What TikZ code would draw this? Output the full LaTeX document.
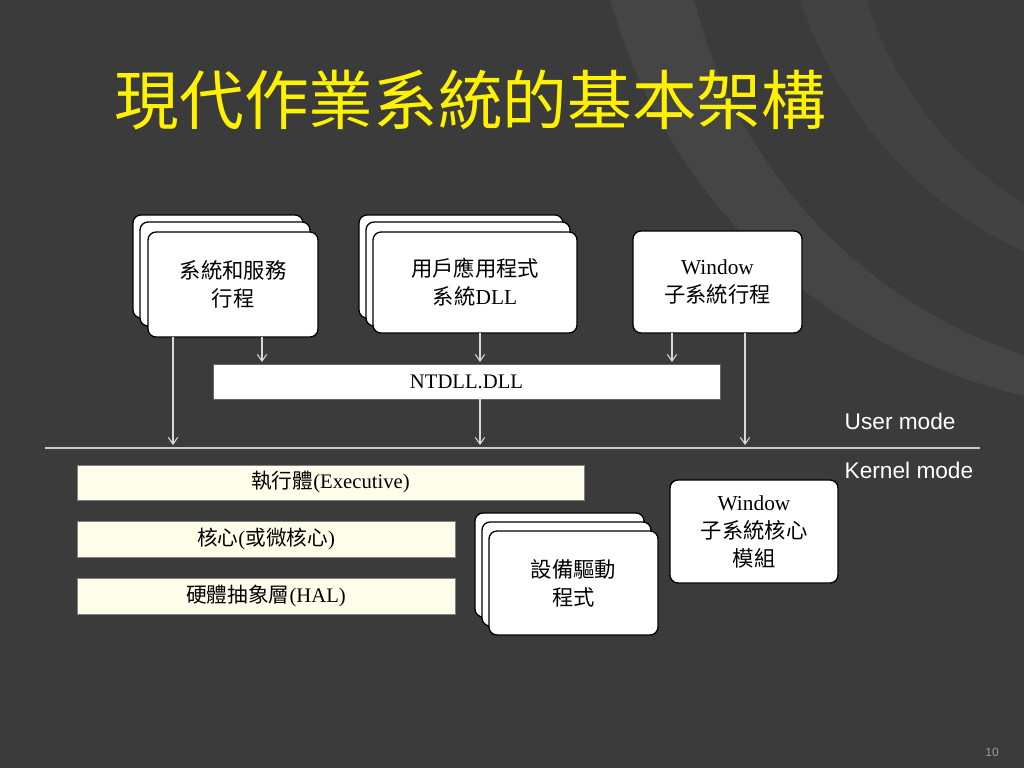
\documentclass[tikz,border=0pt]{standalone}
\usepackage{fontspec}
\usetikzlibrary{arrows.meta}
\setmainfont{Liberation Serif}
\newfontfamily\cjk{Noto Sans CJK TC}
\newfontfamily\sans{Liberation Sans}
\begin{document}
\begin{tikzpicture}[x=0.75pt,y=-0.75pt,
  bx/.style={draw=black,fill=white,rounded corners=6pt,line width=1pt,align=center,inner sep=0pt,font=\fontsize{16}{21}\selectfont},
  bar/.style={draw=black!60,fill=white,line width=0.6pt,inner sep=0pt,font=\fontsize{15.5}{18}\selectfont},
  ybar/.style={draw=black!50,fill=yellow!8,line width=0.6pt,inner sep=0pt,font=\fontsize{15.5}{18}\selectfont},
  ar/.style={draw=white!85!black,line width=0.8pt,-{Straight Barb[length=5pt,width=7pt]}}]
\useasboundingbox (0,0) rectangle (1024,768);
\fill[black!77] (0,0) rectangle (1024,768);
\begin{scope}
\clip (0,0) rectangle (1024,768);
\fill[black!73] (1150,-150) circle (560);
\fill[black!77] (1180,-120) circle (500);
\fill[black!74] (1200,-130) circle (420);
\fill[black!77] (1220,-110) circle (370);
\end{scope}
\node[anchor=west,text=yellow,font=\cjk\fontsize{48.5}{56}\selectfont] (title) at (110,100) {現代作業系統的基本架構};
\draw[bx] (133,215) rectangle (303,318);
\draw[bx] (140,222) rectangle (310,326);
\node[bx,minimum width=170*0.75pt,minimum height=105*0.75pt] (b1) at (233,284.5) {\cjk 系統和服務\\\cjk 行程};
\draw[bx] (359,215) rectangle (563,318);
\draw[bx] (366,222) rectangle (570,326);
\node[bx,minimum width=204*0.75pt,minimum height=101*0.75pt] (b2) at (475,282.5) {\cjk 用戶應用程式\\{\cjk 系統}DLL};
\node[bx,minimum width=169*0.75pt,minimum height=102*0.75pt] (b3) at (717.5,282) {Window\\\cjk 子系統行程};
\node[bar,minimum width=507*0.75pt,minimum height=35*0.75pt] (nt) at (466.5,381.5) {NTDLL.DLL};
\draw[white!80!black,line width=2pt] (45,448) coordinate (l1) -- (980,448) coordinate (l2);
\node[anchor=west,text=white,font=\sans\fontsize{17}{19}\selectfont] (um) at (840,421) {User mode};
\node[anchor=west,text=white,font=\sans\fontsize{17}{19}\selectfont] (km) at (840,470) {Kernel mode};
\coordinate (e1) at (173,445); \coordinate (e2) at (480,445); \coordinate (e3) at (745,445);
\draw[ar] (173,337) -- (e1);
\draw[ar] (262,337) -- (262,362);
\draw[ar] (480,333) -- (480,362);
\draw[ar] (480,399) -- (e2);
\draw[ar] (672,333) -- (672,362);
\draw[ar] (745,333) -- (e3);
\node[ybar,minimum width=507*0.75pt,minimum height=35*0.75pt] (ex) at (330.5,482.5) {{\cjk 執行體}(Executive)};
\node[ybar,minimum width=378*0.75pt,minimum height=36*0.75pt] (kn) at (266,539) {{\cjk 核心}({\cjk 或微核心})};
\node[ybar,minimum width=378*0.75pt,minimum height=36*0.75pt] (hal) at (266,596) {{\cjk 硬體抽象層}(HAL)};
\draw[bx] (475,513) rectangle (644,617);
\draw[bx] (482,522) rectangle (651,626);
\node[bx,minimum width=169*0.75pt,minimum height=104*0.75pt] (dr) at (573.5,583) {\cjk 設備驅動\\\cjk 程式};
\node[bx,minimum width=168*0.75pt,minimum height=103*0.75pt] (wk) at (754,531.5) {Window\\\cjk 子系統核心\\\cjk 模組};
\node[text=black!40,font=\sans\fontsize{9}{10}\selectfont] (pg) at (992,752) {10};
\end{tikzpicture}
\end{document}
